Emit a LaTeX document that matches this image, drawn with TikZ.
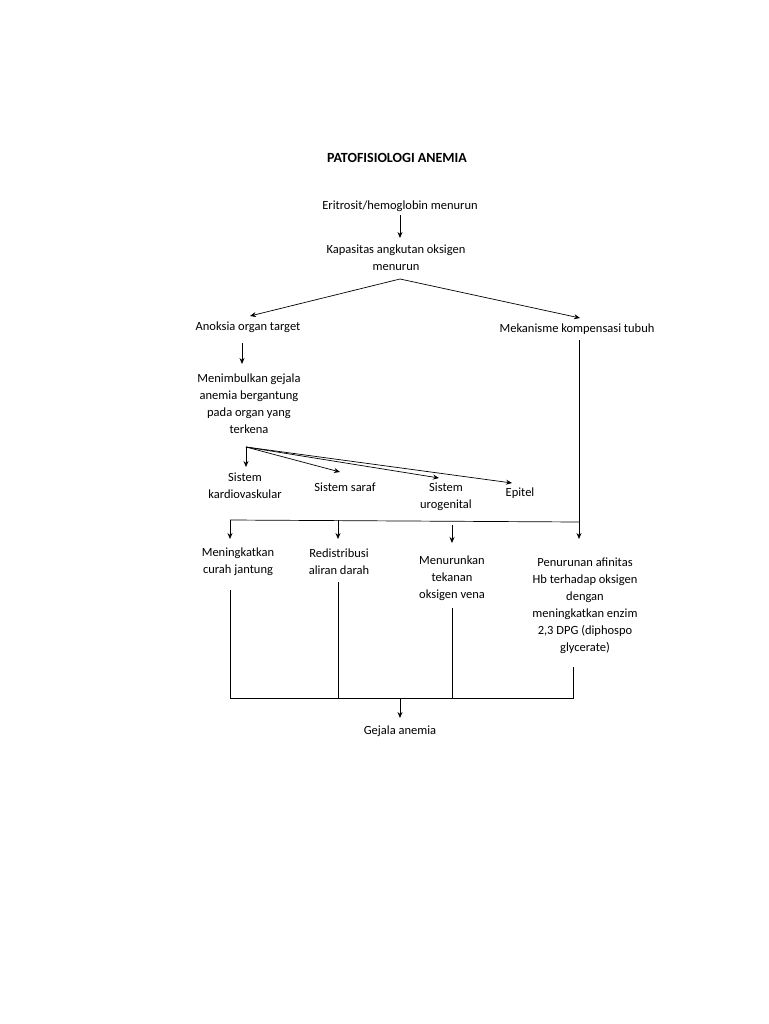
\documentclass[tikz,border=0pt]{standalone}
\usepackage{fontspec}
\setmainfont{Carlito}
\usetikzlibrary{arrows.meta}
\begin{document}
\begin{tikzpicture}[x=1pt,y=-1pt,
  t/.style={inner sep=0pt,align=center,font=\fontsize{12.5}{17}\selectfont},
  ar/.style={-{Stealth[length=6pt,width=5pt]},line width=0.7pt},
  ln/.style={line width=0.7pt}]
\useasboundingbox (0,0) rectangle (768,1024);
\node[t,font=\bfseries\fontsize{14}{17}\selectfont] (title) at (397,158) {PATOFISIOLOGI ANEMIA};
\node[t] (a) at (400,206) {Eritrosit/hemoglobin menurun};
\node[t] (b) at (396,258) {Kapasitas angkutan oksigen\\menurun};
\node[t] (c) at (248,327) {Anoksia organ target};
\node[t] (d) at (577,329) {Mekanisme kompensasi tubuh};
\node[t] (e) at (249,404) {Menimbulkan gejala\\anemia bergantung\\pada organ yang\\terkena};
\node[t] (f1) at (245,486) {Sistem\\kardiovaskular};
\node[t] (f2) at (345,487) {Sistem saraf};
\node[t] (f3) at (446,497) {Sistem\\urogenital};
\node[t] (f4) at (520,493) {Epitel};
\node[t] (g1) at (238,562) {Meningkatkan\\curah jantung};
\node[t] (g2) at (339,562) {Redistribusi\\aliran darah};
\node[t] (g3) at (452,578) {Menurunkan\\tekanan\\oksigen vena};
\node[t] (g4) at (585,606) {Penurunan afinitas\\Hb terhadap oksigen\\dengan\\meningkatkan enzim\\2,3 DPG (diphospo\\glycerate)};
\node[t] (h) at (400,731) {Gejala anemia};
\draw[ar] (400,215) -- (400,238);
\draw[ar] (400,279) -- (250,316);
\draw[ar] (400,279) -- (580,318);
\draw[ar] (242,343) -- (242,364);
\coordinate (s) at (246,447);
\draw[ar] (s) -- (246,467);
\draw[ar] (s) -- (340,472);
\draw[ar] (s) -- (439,478);
\draw[ar] (s) -- (512,483);
\draw[ln] (579,340) -- (579,522);
\draw[ar] (579,522) -- (579,539);
\draw[ln] (579,522) -- (230,520);
\draw[ar] (230,520) -- (230,539);
\draw[ar] (338,520) -- (338,539);
\draw[ar] (452,525) -- (452,543);
\draw[ln] (230,590) -- (230,698) -- (573,698) -- (573,667);
\draw[ln] (338,582) -- (338,698);
\draw[ln] (452,608) -- (452,698);
\draw[ar] (400,698) -- (400,718);
\end{tikzpicture}
\end{document}
